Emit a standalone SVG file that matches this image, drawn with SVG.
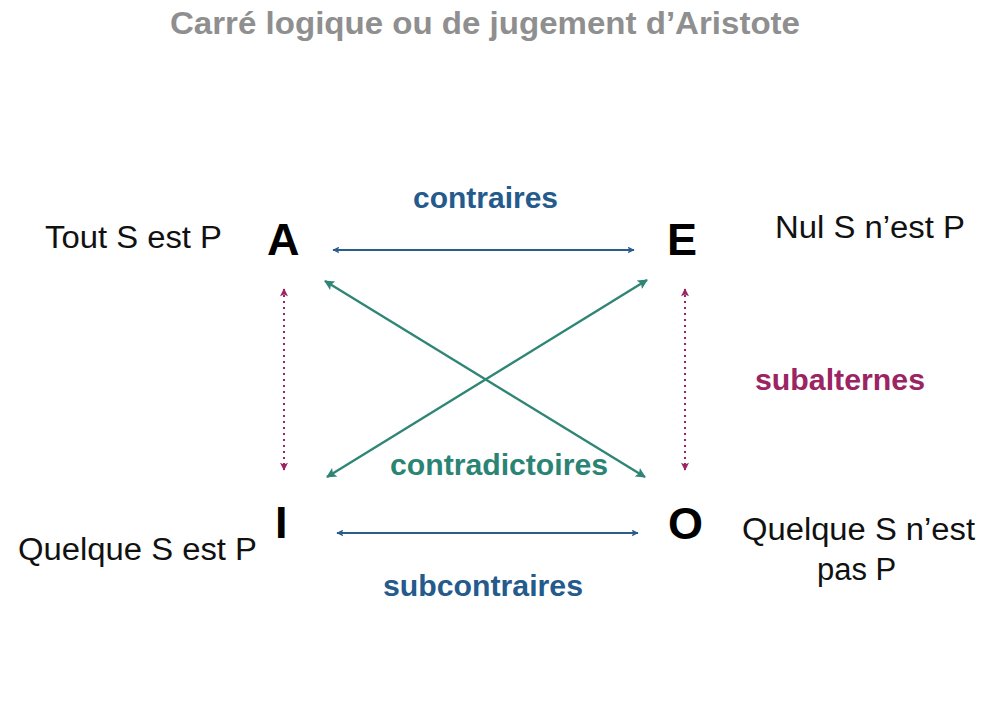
<svg xmlns="http://www.w3.org/2000/svg" width="1000" height="711" viewBox="0 0 1000 711">
  <style>
    .title { font-family: "Liberation Sans", Arial, sans-serif; font-weight: bold; font-size: 32px; fill: #8f8f8f; }
    .letter { font-family: "Liberation Sans", Arial, sans-serif; font-weight: bold; font-size: 45px; fill: #000; }
    .desc { font-family: "Liberation Sans", Arial, sans-serif; font-size: 31px; fill: #111; }
    .lbl { font-family: "Liberation Sans", Arial, sans-serif; font-weight: bold; font-size: 29px; }
    .blue { fill: #245a8c; }
    .teal { fill: #2a8474; }
    .crim { fill: #9b2462; }
    .eblue { stroke: #2b5d8c; stroke-width: 2; fill: none; }
    .eteal { stroke: #2f8576; stroke-width: 2.4; fill: none; }
    .ecrim { stroke: #9b2462; stroke-width: 2; stroke-dasharray: 2 4; fill: none; }
  </style>
  <defs>
    <marker id="mBlue" viewBox="0 0 10 10" refX="9" refY="5" markerWidth="7" markerHeight="7" markerUnits="userSpaceOnUse" orient="auto-start-reverse">
      <path d="M0,0 L10,5 L0,10 L2,5 z" fill="#2b5d8c"/>
    </marker>
    <marker id="mTeal" viewBox="0 0 10 10" refX="9" refY="5" markerWidth="12" markerHeight="10" markerUnits="userSpaceOnUse" orient="auto-start-reverse">
      <path d="M0,0 L10,5 L0,10 L2,5 z" fill="#2f8576"/>
    </marker>
    <marker id="mCrim" viewBox="0 0 10 10" refX="9" refY="5" markerWidth="9" markerHeight="8" markerUnits="userSpaceOnUse" orient="auto-start-reverse">
      <path d="M0,0 L10,5 L0,10 L2,5 z" fill="#9b2462"/>
    </marker>
  </defs>
  <rect width="1000" height="711" fill="#fff"/>
  <text class="title" x="170" y="34" textLength="630" lengthAdjust="spacingAndGlyphs">Carré logique ou de jugement d’Aristote</text>

  <g id="connectors">
    <line id="e-contraires" class="eblue" x1="333" y1="250" x2="634" y2="250" marker-start="url(#mBlue)" marker-end="url(#mBlue)"/>
    <line id="e-subcontraires" class="eblue" x1="337" y1="533" x2="638" y2="533" marker-start="url(#mBlue)" marker-end="url(#mBlue)"/>
    <line id="e-A-O" class="eteal" x1="325" y1="281" x2="645" y2="477" marker-start="url(#mTeal)" marker-end="url(#mTeal)"/>
    <line id="e-I-E" class="eteal" x1="327" y1="477" x2="647" y2="280" marker-start="url(#mTeal)" marker-end="url(#mTeal)"/>
    <line id="e-A-I" class="ecrim" x1="284" y1="289" x2="284" y2="470" marker-start="url(#mCrim)" marker-end="url(#mCrim)"/>
    <line id="e-E-O" class="ecrim" x1="685" y1="289" x2="685" y2="470" marker-start="url(#mCrim)" marker-end="url(#mCrim)"/>
    <text class="lbl blue" x="413" y="208" textLength="145" lengthAdjust="spacingAndGlyphs">contraires</text>
    <text class="lbl crim" x="755" y="390" textLength="170" lengthAdjust="spacingAndGlyphs">subalternes</text>
    <text class="lbl teal" x="390" y="475" textLength="218" lengthAdjust="spacingAndGlyphs">contradictoires</text>
    <text class="lbl blue" x="383" y="596" textLength="200" lengthAdjust="spacingAndGlyphs">subcontraires</text>
  </g>

  <g id="node-A">
    <text class="letter" x="267" y="255">A</text>
    <text class="desc" x="45" y="248" textLength="177" lengthAdjust="spacingAndGlyphs">Tout S est P</text>
  </g>
  <g id="node-E">
    <text class="letter" x="667" y="255">E</text>
    <text class="desc" x="775" y="238" textLength="190" lengthAdjust="spacingAndGlyphs">Nul S n’est P</text>
  </g>
  <g id="node-I">
    <text class="letter" x="275" y="538">I</text>
    <text class="desc" x="18" y="560" textLength="239" lengthAdjust="spacingAndGlyphs">Quelque S est P</text>
  </g>
  <g id="node-O">
    <text class="letter" x="668" y="539">O</text>
    <text class="desc" x="742" y="540" textLength="233" lengthAdjust="spacingAndGlyphs">Quelque S n’est</text>
    <text class="desc" x="817" y="580">pas P</text>
  </g>
</svg>
